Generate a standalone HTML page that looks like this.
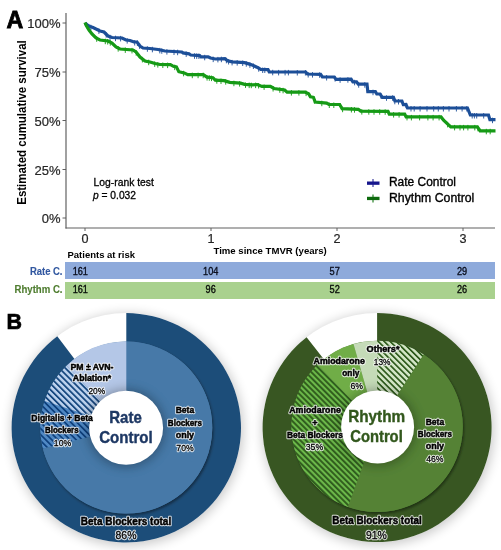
<!DOCTYPE html>
<html><head><meta charset="utf-8"><style>
html,body{margin:0;padding:0;background:#fff;}
svg{display:block;will-change:transform;}
text{font-family:"Liberation Sans",sans-serif;}
</style></head><body>
<svg width="501" height="550" viewBox="0 0 501 550">
<defs>
<pattern id="hB" patternUnits="userSpaceOnUse" width="4.3" height="4.3" patternTransform="rotate(-45)">
<rect width="4.3" height="4.3" fill="#bdd2ee"/><rect width="1.8" height="4.3" fill="#15467e"/></pattern>
<pattern id="hBm" patternUnits="userSpaceOnUse" width="4.3" height="4.3" patternTransform="rotate(-45)">
<rect width="4.3" height="4.3" fill="#4f88c4"/><rect width="1.7" height="4.3" fill="#0f3f7c"/></pattern>
<pattern id="hG" patternUnits="userSpaceOnUse" width="4.0" height="4.0" patternTransform="rotate(-45)">
<rect width="4" height="4" fill="#6cb84a"/><rect width="1.9" height="4" fill="#2e5a1c"/></pattern>
<pattern id="hGl" patternUnits="userSpaceOnUse" width="4.2" height="4.2" patternTransform="rotate(-45)">
<rect width="4.2" height="4.2" fill="#d3e6c6"/><rect width="1.7" height="4.2" fill="#2e5a1c"/></pattern>
<filter id="soft" x="0" y="0" width="501" height="550" filterUnits="userSpaceOnUse"><feGaussianBlur stdDeviation="0.6"/></filter>
<filter id="sh2" x="-20%" y="-20%" width="140%" height="140%"><feGaussianBlur stdDeviation="1.8"/></filter>
<filter id="sh" x="-20%" y="-20%" width="140%" height="140%"><feGaussianBlur stdDeviation="6"/></filter>
<filter id="glow" x="-30%" y="-30%" width="160%" height="160%">
<feMorphology in="SourceAlpha" operator="dilate" radius="1" result="d"/>
<feGaussianBlur in="d" stdDeviation="0.6" result="b"/>
<feFlood flood-color="#fff"/><feComposite in2="b" operator="in" result="w"/>
<feMerge><feMergeNode in="w"/><feMergeNode in="SourceGraphic"/></feMerge></filter>
</defs>
<g filter="url(#soft)">

<text x="6.5" y="28" font-size="23.2" font-weight="bold" fill="#000" stroke="#000" stroke-width="0.8">A</text>
<text x="60.5" y="28.3" font-size="13" fill="#262626" stroke="#262626" stroke-width="0.2" text-anchor="end">100%</text>
<line x1="62.5" y1="23" x2="66" y2="23" stroke="#606060" stroke-width="1"/>
<text x="60.5" y="77.3" font-size="13" fill="#262626" stroke="#262626" stroke-width="0.2" text-anchor="end">75%</text>
<line x1="62.5" y1="72" x2="66" y2="72" stroke="#606060" stroke-width="1"/>
<text x="60.5" y="125.8" font-size="13" fill="#262626" stroke="#262626" stroke-width="0.2" text-anchor="end">50%</text>
<line x1="62.5" y1="120.5" x2="66" y2="120.5" stroke="#606060" stroke-width="1"/>
<text x="60.5" y="174.8" font-size="13" fill="#262626" stroke="#262626" stroke-width="0.2" text-anchor="end">25%</text>
<line x1="62.5" y1="169.5" x2="66" y2="169.5" stroke="#606060" stroke-width="1"/>
<text x="60.5" y="223.3" font-size="13" fill="#262626" stroke="#262626" stroke-width="0.2" text-anchor="end">0%</text>
<line x1="62.5" y1="218" x2="66" y2="218" stroke="#606060" stroke-width="1"/>
<line x1="66" y1="13" x2="66" y2="228.5" stroke="#606060" stroke-width="1.2"/>
<line x1="65.5" y1="228" x2="495" y2="228" stroke="#606060" stroke-width="1.2"/>
<line x1="85" y1="228" x2="85" y2="231" stroke="#606060" stroke-width="1"/>
<text x="85" y="242.5" font-size="12.6" fill="#222" stroke="#222" stroke-width="0.2" text-anchor="middle">0</text>
<line x1="211" y1="228" x2="211" y2="231" stroke="#606060" stroke-width="1"/>
<text x="211" y="242.5" font-size="12.6" fill="#222" stroke="#222" stroke-width="0.2" text-anchor="middle">1</text>
<line x1="337" y1="228" x2="337" y2="231" stroke="#606060" stroke-width="1"/>
<text x="337" y="242.5" font-size="12.6" fill="#222" stroke="#222" stroke-width="0.2" text-anchor="middle">2</text>
<line x1="463" y1="228" x2="463" y2="231" stroke="#606060" stroke-width="1"/>
<text x="463" y="242.5" font-size="12.6" fill="#222" stroke="#222" stroke-width="0.2" text-anchor="middle">3</text>
<text transform="translate(25.6,122.5) rotate(-90)" font-size="12.4" font-weight="bold" fill="#000" text-anchor="middle" textLength="164.5" lengthAdjust="spacingAndGlyphs">Estimated cumulative survival</text>
<polyline points="85.0,23.0 88.0,25.5 90.0,26.5 93.0,27.5 100.0,31.0 104.0,32.0 108.0,36.0 112.0,37.5 122.0,38.0 126.0,40.0 130.0,40.5 134.0,42.0 137.0,42.0 140.0,46.0 143.0,48.0 150.0,48.5 158.0,49.5 165.0,51.0 181.8,52.0 183.0,52.9 189.0,53.8 190.7,55.0 199.7,55.6 200.9,56.8 208.1,56.8 210.5,58.0 215.3,59.0 224.9,58.6 227.4,60.7 232.3,61.9 240.5,62.3 244.6,62.7 248.7,63.9 252.8,65.2 256.9,67.2 260.8,69.4 268.0,69.6 269.2,71.8 305.7,72.0 307.4,74.0 320.6,74.3 322.4,77.0 334.3,77.0 336.1,79.4 351.1,79.1 352.9,81.8 356.5,81.8 358.3,84.2 367.0,84.2 367.8,91.7 375.4,91.7 376.8,94.0 380.1,94.0 382.3,97.3 393.5,97.3 394.9,101.0 401.9,101.0 403.3,104.6 406.1,104.6 407.5,108.0 467.5,108.0 470.3,115.0 488.5,115.0 489.9,119.7 495.5,119.7" fill="none" stroke="#1f4f98" stroke-width="3.2" stroke-linejoin="miter"/>
<path d="M90.9,24.8v5.5 M98.9,28.4v5.5 M106.2,32.2v5.5 M110.0,34.8v5.5 M115.5,35.7v5.5 M120.6,35.9v5.5 M127.2,38.1v5.5 M134.7,40.0v5.5 M137.4,40.5v5.5 M139.6,43.4v5.5 M147.4,46.3v5.5 M152.4,46.8v5.5 M159.8,47.9v5.5 M161.8,48.3v5.5 M166.9,49.1v5.5 M174.0,49.5v5.5 M177.6,49.7v5.5 M186.2,51.4v5.5 M194.5,53.3v5.5 M196.7,53.4v5.5 M198.9,53.5v5.5 M204.7,54.8v5.5 M213.2,56.6v5.5 M217.9,56.9v5.5 M221.4,56.7v5.5 M226.4,57.8v5.5 M228.6,59.0v5.5 M232.1,59.9v5.5 M237.2,60.1v5.5 M242.7,60.5v5.5 M246.3,61.2v5.5 M249.9,62.3v5.5 M253.4,63.5v5.5 M258.7,66.2v5.5 M262.7,67.5v5.5 M264.8,67.5v5.5 M272.7,69.8v5.5 M278.6,69.9v5.5 M285.1,69.9v5.5 M288.4,69.9v5.5 M297.3,70.0v5.5 M305.4,70.0v5.5 M308.2,72.0v5.5 M312.5,72.1v5.5 M319.6,72.3v5.5 M326.6,75.0v5.5 M335.1,76.1v5.5 M340.1,77.3v5.5 M347.9,77.2v5.5 M354.6,79.8v5.5 M358.7,82.2v5.5 M364.8,82.2v5.5 M373.0,89.7v5.5 M380.9,93.2v5.5 M386.5,95.3v5.5 M392.6,95.3v5.5 M394.8,98.8v5.5 M398.5,99.0v5.5 M406.1,102.6v5.5 M411.0,106.0v5.5 M414.2,106.0v5.5 M420.1,106.0v5.5 M427.0,106.0v5.5 M433.7,106.0v5.5 M438.3,106.0v5.5 M443.4,106.0v5.5 M449.0,106.0v5.5 M456.4,106.0v5.5 M462.1,106.0v5.5 M466.8,106.0v5.5 M472.2,113.0v5.5 M474.4,113.0v5.5 M476.7,113.0v5.5 M483.7,113.0v5.5 M492.5,117.7v5.5" stroke="#1f4f98" stroke-width="0.9" fill="none"/>
<polyline points="85.0,22.5 86.0,25.0 89.0,30.0 92.0,34.0 96.0,38.0 100.0,40.0 108.0,41.0 112.0,43.0 116.0,47.0 120.0,49.0 133.0,50.0 136.0,52.0 140.0,57.0 145.0,61.0 150.0,62.0 155.0,63.5 160.0,64.5 170.4,64.6 173.4,66.3 176.4,66.9 178.8,71.7 184.2,72.9 187.8,74.7 203.3,74.7 206.9,77.1 212.9,77.7 215.3,80.1 224.1,80.7 229.8,82.4 240.5,83.2 244.6,84.4 252.8,84.8 257.2,84.5 262.0,86.4 270.4,86.4 274.0,88.5 284.7,90.0 287.1,92.1 305.1,92.1 308.6,93.7 310.4,96.7 313.4,97.3 315.2,102.1 326.6,103.1 329.0,104.5 339.7,104.5 342.1,108.7 358.3,109.3 360.7,111.1 388.0,111.3 389.3,114.1 404.7,114.1 406.1,116.9 441.0,116.9 443.8,120.5 450.8,126.9 477.3,126.9 480.1,130.8 495.5,130.8" fill="none" stroke="#139a13" stroke-width="3.2" stroke-linejoin="miter"/>
<path d="M96.7,36.3v5.5 M105.3,38.7v5.5 M107.7,39.0v5.5 M110.3,40.2v5.5 M118.2,46.1v5.5 M125.3,47.4v5.5 M132.0,47.9v5.5 M136.2,50.2v5.5 M142.4,56.9v5.5 M148.7,59.7v5.5 M154.7,61.4v5.5 M157.8,62.1v5.5 M162.8,62.5v5.5 M167.6,62.6v5.5 M174.7,64.6v5.5 M183.6,70.8v5.5 M192.3,72.7v5.5 M198.1,72.7v5.5 M203.2,72.7v5.5 M207.1,75.1v5.5 M209.3,75.3v5.5 M211.5,75.6v5.5 M216.8,78.2v5.5 M221.0,78.5v5.5 M225.7,79.2v5.5 M233.9,80.7v5.5 M239.6,81.1v5.5 M245.5,82.4v5.5 M249.2,82.6v5.5 M251.3,82.7v5.5 M255.6,82.6v5.5 M258.6,83.0v5.5 M264.1,84.4v5.5 M273.1,86.0v5.5 M279.8,87.3v5.5 M283.1,87.8v5.5 M291.4,90.1v5.5 M298.9,90.1v5.5 M306.1,90.6v5.5 M314.4,98.1v5.5 M321.8,100.7v5.5 M329.3,102.5v5.5 M333.8,102.5v5.5 M342.6,106.7v5.5 M351.4,107.0v5.5 M354.5,107.2v5.5 M361.8,109.1v5.5 M368.8,109.2v5.5 M374.0,109.2v5.5 M379.7,109.2v5.5 M385.2,109.3v5.5 M393.6,112.1v5.5 M399.1,112.1v5.5 M407.0,114.9v5.5 M411.4,114.9v5.5 M419.6,114.9v5.5 M427.9,114.9v5.5 M433.1,114.9v5.5 M439.1,114.9v5.5 M447.6,121.9v5.5 M454.6,124.9v5.5 M460.0,124.9v5.5 M463.6,124.9v5.5 M467.9,124.9v5.5 M474.8,124.9v5.5 M477.9,125.8v5.5 M486.3,128.8v5.5 M490.2,128.8v5.5" stroke="#139a13" stroke-width="0.9" fill="none"/>
<rect x="367" y="181.5" width="12.5" height="3.3" fill="#15158c"/><rect x="372.5" y="179" width="1" height="8" fill="#15158c"/>
<rect x="367" y="196.8" width="12.5" height="3.3" fill="#0b6b0b"/><rect x="372.5" y="194.5" width="1" height="8" fill="#0b6b0b"/>
<text x="389" y="186" font-size="12" fill="#000" stroke="#000" stroke-width="0.35" textLength="67" lengthAdjust="spacingAndGlyphs">Rate Control</text>
<text x="389" y="201.5" font-size="12" fill="#000" stroke="#000" stroke-width="0.35" textLength="85.3" lengthAdjust="spacingAndGlyphs">Rhythm Control</text>
<text x="93.5" y="186" font-size="10.6" fill="#000" stroke="#000" stroke-width="0.3" textLength="60.4" lengthAdjust="spacingAndGlyphs">Log-rank test</text>
<text x="93" y="199" font-size="10.6" fill="#000" stroke="#000" stroke-width="0.3" textLength="43" lengthAdjust="spacingAndGlyphs"><tspan font-style="italic">p</tspan> = 0.032</text>
<text x="67.5" y="258.3" font-size="9.7" font-weight="bold" fill="#000" textLength="67.5" lengthAdjust="spacingAndGlyphs">Patients at risk</text>
<text x="213.5" y="254" font-size="9.8" font-weight="bold" fill="#000" textLength="113.3" lengthAdjust="spacingAndGlyphs">Time since TMVR (years)</text>
<rect x="65" y="262" width="430" height="17" fill="#8eaadb"/>
<rect x="65" y="282" width="430" height="17" fill="#a9d18e"/>
<text x="62.5" y="275" font-size="10.6" font-weight="bold" fill="#3258a0" stroke="#3258a0" stroke-width="0.15" text-anchor="end" textLength="32.6" lengthAdjust="spacingAndGlyphs">Rate C.</text>
<text x="62.5" y="293.2" font-size="10.6" font-weight="bold" fill="#4f7d30" stroke="#4f7d30" stroke-width="0.15" text-anchor="end" textLength="48" lengthAdjust="spacingAndGlyphs">Rhythm C.</text>
<text x="80.3" y="275" font-size="10.2" fill="#0a0f1e" stroke="#0a0f1e" stroke-width="0.35" text-anchor="middle" textLength="15.299999999999999" lengthAdjust="spacingAndGlyphs">161</text>
<text x="80.3" y="293.4" font-size="10.2" fill="#0a0f0a" stroke="#0a0f0a" stroke-width="0.35" text-anchor="middle" textLength="15.299999999999999" lengthAdjust="spacingAndGlyphs">161</text>
<text x="210.7" y="275" font-size="10.2" fill="#0a0f1e" stroke="#0a0f1e" stroke-width="0.35" text-anchor="middle" textLength="15.299999999999999" lengthAdjust="spacingAndGlyphs">104</text>
<text x="210.7" y="293.4" font-size="10.2" fill="#0a0f0a" stroke="#0a0f0a" stroke-width="0.35" text-anchor="middle" textLength="10.2" lengthAdjust="spacingAndGlyphs">96</text>
<text x="334.7" y="275" font-size="10.2" fill="#0a0f1e" stroke="#0a0f1e" stroke-width="0.35" text-anchor="middle" textLength="10.2" lengthAdjust="spacingAndGlyphs">57</text>
<text x="334.7" y="293.4" font-size="10.2" fill="#0a0f0a" stroke="#0a0f0a" stroke-width="0.35" text-anchor="middle" textLength="10.2" lengthAdjust="spacingAndGlyphs">52</text>
<text x="462" y="275" font-size="10.2" fill="#0a0f1e" stroke="#0a0f1e" stroke-width="0.35" text-anchor="middle" textLength="10.2" lengthAdjust="spacingAndGlyphs">29</text>
<text x="462" y="293.4" font-size="10.2" fill="#0a0f0a" stroke="#0a0f0a" stroke-width="0.35" text-anchor="middle" textLength="10.2" lengthAdjust="spacingAndGlyphs">26</text>
<text x="6.6" y="329.4" font-size="21.5" font-weight="bold" fill="#000" stroke="#000" stroke-width="0.6">B</text>
<circle cx="127.3" cy="429.8" r="115.7" fill="#000" opacity="0.22" filter="url(#sh)"/>
<circle cx="126.3" cy="427.8" r="114.7" fill="#fff"/>
<path d="M126.30,313.10 A114.7,114.7 0 1 1 57.27,336.20 L76.95,362.31 A82,82 0 1 0 126.30,345.80 Z" fill="#1f4e79"/>
<circle cx="127.5" cy="429.40000000000003" r="86" fill="#000" opacity="0.45" filter="url(#sh2)"/>
<circle cx="126.3" cy="427.6" r="86" fill="#4679a8"/>
<path d="M126.30,427.60 L126.30,341.60 A86,86 0 1 1 42.85,448.41 Z" fill="#4679a8"/>
<path d="M126.30,427.60 L42.85,448.41 A86,86 0 0 1 44.51,401.02 Z" fill="url(#hBm)"/>
<path d="M126.30,427.60 L44.51,401.02 A86,86 0 0 1 66.56,365.74 Z" fill="url(#hB)"/>
<path d="M126.30,427.60 L66.56,365.74 A86,86 0 0 1 126.30,341.60 Z" fill="#b4c7e7"/>
<circle cx="126.1" cy="428.2" r="38" fill="#000" opacity="0.35" filter="url(#sh)"/>
<circle cx="126.1" cy="427.7" r="37" fill="#fff"/>
<text x="125.5" y="422.7" font-size="16.3" font-weight="bold" fill="#1f3864" stroke="#1f3864" stroke-width="0.4" text-anchor="middle" textLength="32.5" lengthAdjust="spacingAndGlyphs">Rate</text>
<text x="126" y="442.8" font-size="16.3" font-weight="bold" fill="#1f3864" stroke="#1f3864" stroke-width="0.4" text-anchor="middle" textLength="53.5" lengthAdjust="spacingAndGlyphs">Control</text>
<text x="92" y="370" font-size="9" font-weight="bold" fill="#fff" text-anchor="middle" stroke="#fff" stroke-width="2.4" stroke-opacity="0.8" stroke-linejoin="round" textLength="43" lengthAdjust="spacingAndGlyphs">PM ± AVN-</text>
<text x="92" y="370" font-size="9" font-weight="bold" fill="#000" text-anchor="middle" stroke="#000" stroke-width="0.5" textLength="43" lengthAdjust="spacingAndGlyphs">PM ± AVN-</text>
<text x="92" y="381.4" font-size="9" font-weight="bold" fill="#fff" text-anchor="middle" stroke="#fff" stroke-width="2.4" stroke-opacity="0.8" stroke-linejoin="round" textLength="38.3" lengthAdjust="spacingAndGlyphs">Ablation*</text>
<text x="92" y="381.4" font-size="9" font-weight="bold" fill="#000" text-anchor="middle" stroke="#000" stroke-width="0.5" textLength="38.3" lengthAdjust="spacingAndGlyphs">Ablation*</text>
<text x="96.8" y="394" font-size="9.7" font-weight="normal" fill="#fff" text-anchor="middle" stroke="#fff" stroke-width="2.4" stroke-opacity="0.8" stroke-linejoin="round" textLength="16.7" lengthAdjust="spacingAndGlyphs">20%</text>
<text x="96.8" y="394" font-size="9.7" font-weight="normal" fill="#000" text-anchor="middle" stroke="#000" stroke-width="0.3" textLength="16.7" lengthAdjust="spacingAndGlyphs">20%</text>
<text x="62.1" y="421" font-size="9" font-weight="bold" fill="#fff" text-anchor="middle" stroke="#fff" stroke-width="2.4" stroke-opacity="0.8" stroke-linejoin="round" textLength="61.5" lengthAdjust="spacingAndGlyphs">Digitalis + Beta</text>
<text x="62.1" y="421" font-size="9" font-weight="bold" fill="#000" text-anchor="middle" stroke="#000" stroke-width="0.5" textLength="61.5" lengthAdjust="spacingAndGlyphs">Digitalis + Beta</text>
<text x="61.8" y="433" font-size="9" font-weight="bold" fill="#fff" text-anchor="middle" stroke="#fff" stroke-width="2.4" stroke-opacity="0.8" stroke-linejoin="round" textLength="33.5" lengthAdjust="spacingAndGlyphs">Blockers</text>
<text x="61.8" y="433" font-size="9" font-weight="bold" fill="#000" text-anchor="middle" stroke="#000" stroke-width="0.5" textLength="33.5" lengthAdjust="spacingAndGlyphs">Blockers</text>
<text x="62.5" y="446.2" font-size="9.7" font-weight="normal" fill="#fff" text-anchor="middle" stroke="#fff" stroke-width="2.4" stroke-opacity="0.8" stroke-linejoin="round" textLength="17.3" lengthAdjust="spacingAndGlyphs">10%</text>
<text x="62.5" y="446.2" font-size="9.7" font-weight="normal" fill="#000" text-anchor="middle" stroke="#000" stroke-width="0.3" textLength="17.3" lengthAdjust="spacingAndGlyphs">10%</text>
<text x="184.9" y="413.2" font-size="9" font-weight="bold" fill="#fff" text-anchor="middle" stroke="#fff" stroke-width="2.4" stroke-opacity="0.8" stroke-linejoin="round" textLength="18.5" lengthAdjust="spacingAndGlyphs">Beta</text>
<text x="184.9" y="413.2" font-size="9" font-weight="bold" fill="#000" text-anchor="middle" stroke="#000" stroke-width="0.5" textLength="18.5" lengthAdjust="spacingAndGlyphs">Beta</text>
<text x="184.9" y="425.7" font-size="9" font-weight="bold" fill="#fff" text-anchor="middle" stroke="#fff" stroke-width="2.4" stroke-opacity="0.8" stroke-linejoin="round" textLength="34.1" lengthAdjust="spacingAndGlyphs">Blockers</text>
<text x="184.9" y="425.7" font-size="9" font-weight="bold" fill="#000" text-anchor="middle" stroke="#000" stroke-width="0.5" textLength="34.1" lengthAdjust="spacingAndGlyphs">Blockers</text>
<text x="184.9" y="437.7" font-size="9" font-weight="bold" fill="#fff" text-anchor="middle" stroke="#fff" stroke-width="2.4" stroke-opacity="0.8" stroke-linejoin="round" textLength="18.5" lengthAdjust="spacingAndGlyphs">only</text>
<text x="184.9" y="437.7" font-size="9" font-weight="bold" fill="#000" text-anchor="middle" stroke="#000" stroke-width="0.5" textLength="18.5" lengthAdjust="spacingAndGlyphs">only</text>
<text x="185" y="450.5" font-size="9.7" font-weight="normal" fill="#fff" text-anchor="middle" stroke="#fff" stroke-width="2.4" stroke-opacity="0.8" stroke-linejoin="round" textLength="17.3" lengthAdjust="spacingAndGlyphs">70%</text>
<text x="185" y="450.5" font-size="9.7" font-weight="normal" fill="#000" text-anchor="middle" stroke="#000" stroke-width="0.3" textLength="17.3" lengthAdjust="spacingAndGlyphs">70%</text>
<text x="126" y="524.8" font-size="10.5" font-weight="bold" fill="#fff" text-anchor="middle" stroke="#fff" stroke-width="2.4" stroke-opacity="0.8" stroke-linejoin="round" textLength="90.4" lengthAdjust="spacingAndGlyphs">Beta Blockers total</text>
<text x="126" y="524.8" font-size="10.5" font-weight="bold" fill="#000" text-anchor="middle" stroke="#000" stroke-width="0.5" textLength="90.4" lengthAdjust="spacingAndGlyphs">Beta Blockers total</text>
<text x="126" y="539.2" font-size="10.5" font-weight="normal" fill="#fff" text-anchor="middle" stroke="#fff" stroke-width="2.4" stroke-opacity="0.8" stroke-linejoin="round" textLength="20.9" lengthAdjust="spacingAndGlyphs">86%</text>
<text x="126" y="539.2" font-size="10.5" font-weight="normal" fill="#000" text-anchor="middle" stroke="#000" stroke-width="0.3" textLength="20.9" lengthAdjust="spacingAndGlyphs">86%</text>
<circle cx="378.1" cy="429.5" r="115.5" fill="#000" opacity="0.22" filter="url(#sh)"/>
<circle cx="377.1" cy="427.5" r="114.5" fill="#fff"/>
<path d="M377.10,313.00 A114.5,114.5 0 1 1 306.61,337.27 L326.80,363.12 A81.7,81.7 0 1 0 377.10,345.80 Z" fill="#385723"/>
<circle cx="378.3" cy="428.2" r="85.7" fill="#000" opacity="0.45" filter="url(#sh2)"/>
<circle cx="377.1" cy="426.4" r="85.7" fill="#548235"/>
<path d="M377.10,426.40 L377.10,340.70 A85.7,85.7 0 0 1 423.78,354.53 Z" fill="url(#hGl)"/>
<path d="M377.10,426.40 L423.78,354.53 A85.7,85.7 0 0 1 347.79,506.93 Z" fill="#548235"/>
<path d="M377.10,426.40 L347.79,506.93 A85.7,85.7 0 0 1 317.57,364.75 Z" fill="url(#hG)"/>
<path d="M377.10,426.40 L317.57,364.75 A85.7,85.7 0 0 1 353.48,344.02 Z" fill="#70ad47"/>
<path d="M377.10,426.40 L353.48,344.02 A85.7,85.7 0 0 1 377.10,340.70 Z" fill="#c5dbb8"/>
<circle cx="377.6" cy="427.5" r="37.5" fill="#000" opacity="0.35" filter="url(#sh)"/>
<circle cx="377.6" cy="427" r="36.5" fill="#fff"/>
<text x="376.7" y="422.2" font-size="16.3" font-weight="bold" fill="#33581e" stroke="#33581e" stroke-width="0.4" text-anchor="middle" textLength="57" lengthAdjust="spacingAndGlyphs">Rhythm</text>
<text x="376.5" y="441.5" font-size="16.3" font-weight="bold" fill="#33581e" stroke="#33581e" stroke-width="0.4" text-anchor="middle" textLength="52.5" lengthAdjust="spacingAndGlyphs">Control</text>
<text x="339.2" y="364.4" font-size="9" font-weight="bold" fill="#fff" text-anchor="middle" stroke="#fff" stroke-width="2.4" stroke-opacity="0.8" stroke-linejoin="round" textLength="51.2" lengthAdjust="spacingAndGlyphs">Amiodarone</text>
<text x="339.2" y="364.4" font-size="9" font-weight="bold" fill="#000" text-anchor="middle" stroke="#000" stroke-width="0.5" textLength="51.2" lengthAdjust="spacingAndGlyphs">Amiodarone</text>
<text x="350.8" y="376" font-size="9" font-weight="bold" fill="#fff" text-anchor="middle" stroke="#fff" stroke-width="2.4" stroke-opacity="0.8" stroke-linejoin="round" textLength="17.1" lengthAdjust="spacingAndGlyphs">only</text>
<text x="350.8" y="376" font-size="9" font-weight="bold" fill="#000" text-anchor="middle" stroke="#000" stroke-width="0.5" textLength="17.1" lengthAdjust="spacingAndGlyphs">only</text>
<text x="356.7" y="388.6" font-size="9.7" font-weight="normal" fill="#fff" text-anchor="middle" stroke="#fff" stroke-width="2.4" stroke-opacity="0.8" stroke-linejoin="round" textLength="12.6" lengthAdjust="spacingAndGlyphs">6%</text>
<text x="356.7" y="388.6" font-size="9.7" font-weight="normal" fill="#000" text-anchor="middle" stroke="#000" stroke-width="0.3" textLength="12.6" lengthAdjust="spacingAndGlyphs">6%</text>
<text x="383" y="352.4" font-size="9" font-weight="bold" fill="#fff" text-anchor="middle" stroke="#fff" stroke-width="2.4" stroke-opacity="0.8" stroke-linejoin="round" textLength="32.9" lengthAdjust="spacingAndGlyphs">Others*</text>
<text x="383" y="352.4" font-size="9" font-weight="bold" fill="#000" text-anchor="middle" stroke="#000" stroke-width="0.5" textLength="32.9" lengthAdjust="spacingAndGlyphs">Others*</text>
<text x="382.1" y="365" font-size="9.7" font-weight="normal" fill="#fff" text-anchor="middle" stroke="#fff" stroke-width="2.4" stroke-opacity="0.8" stroke-linejoin="round" textLength="16.7" lengthAdjust="spacingAndGlyphs">13%</text>
<text x="382.1" y="365" font-size="9.7" font-weight="normal" fill="#000" text-anchor="middle" stroke="#000" stroke-width="0.3" textLength="16.7" lengthAdjust="spacingAndGlyphs">13%</text>
<text x="315" y="413.3" font-size="9" font-weight="bold" fill="#fff" text-anchor="middle" stroke="#fff" stroke-width="2.4" stroke-opacity="0.8" stroke-linejoin="round" textLength="51.7" lengthAdjust="spacingAndGlyphs">Amiodarone</text>
<text x="315" y="413.3" font-size="9" font-weight="bold" fill="#000" text-anchor="middle" stroke="#000" stroke-width="0.5" textLength="51.7" lengthAdjust="spacingAndGlyphs">Amiodarone</text>
<text x="314.9" y="426" font-size="9" font-weight="bold" fill="#fff" text-anchor="middle" stroke="#fff" stroke-width="2.4" stroke-opacity="0.8" stroke-linejoin="round">+</text>
<text x="314.9" y="426" font-size="9" font-weight="bold" fill="#000" text-anchor="middle" stroke="#000" stroke-width="0.5">+</text>
<text x="314.9" y="438" font-size="9" font-weight="bold" fill="#fff" text-anchor="middle" stroke="#fff" stroke-width="2.4" stroke-opacity="0.8" stroke-linejoin="round" textLength="55.8" lengthAdjust="spacingAndGlyphs">Beta Blockers</text>
<text x="314.9" y="438" font-size="9" font-weight="bold" fill="#000" text-anchor="middle" stroke="#000" stroke-width="0.5" textLength="55.8" lengthAdjust="spacingAndGlyphs">Beta Blockers</text>
<text x="314.5" y="450.3" font-size="9.7" font-weight="normal" fill="#fff" text-anchor="middle" stroke="#fff" stroke-width="2.4" stroke-opacity="0.8" stroke-linejoin="round" textLength="17.5" lengthAdjust="spacingAndGlyphs">35%</text>
<text x="314.5" y="450.3" font-size="9.7" font-weight="normal" fill="#000" text-anchor="middle" stroke="#000" stroke-width="0.3" textLength="17.5" lengthAdjust="spacingAndGlyphs">35%</text>
<text x="434.9" y="425.4" font-size="9" font-weight="bold" fill="#fff" text-anchor="middle" stroke="#fff" stroke-width="2.4" stroke-opacity="0.8" stroke-linejoin="round" textLength="18.5" lengthAdjust="spacingAndGlyphs">Beta</text>
<text x="434.9" y="425.4" font-size="9" font-weight="bold" fill="#000" text-anchor="middle" stroke="#000" stroke-width="0.5" textLength="18.5" lengthAdjust="spacingAndGlyphs">Beta</text>
<text x="434.9" y="437.3" font-size="9" font-weight="bold" fill="#fff" text-anchor="middle" stroke="#fff" stroke-width="2.4" stroke-opacity="0.8" stroke-linejoin="round" textLength="34.1" lengthAdjust="spacingAndGlyphs">Blockers</text>
<text x="434.9" y="437.3" font-size="9" font-weight="bold" fill="#000" text-anchor="middle" stroke="#000" stroke-width="0.5" textLength="34.1" lengthAdjust="spacingAndGlyphs">Blockers</text>
<text x="434.9" y="449.3" font-size="9" font-weight="bold" fill="#fff" text-anchor="middle" stroke="#fff" stroke-width="2.4" stroke-opacity="0.8" stroke-linejoin="round" textLength="18.5" lengthAdjust="spacingAndGlyphs">only</text>
<text x="434.9" y="449.3" font-size="9" font-weight="bold" fill="#000" text-anchor="middle" stroke="#000" stroke-width="0.5" textLength="18.5" lengthAdjust="spacingAndGlyphs">only</text>
<text x="434.9" y="461.9" font-size="9.7" font-weight="normal" fill="#fff" text-anchor="middle" stroke="#fff" stroke-width="2.4" stroke-opacity="0.8" stroke-linejoin="round" textLength="17.3" lengthAdjust="spacingAndGlyphs">46%</text>
<text x="434.9" y="461.9" font-size="9.7" font-weight="normal" fill="#000" text-anchor="middle" stroke="#000" stroke-width="0.3" textLength="17.3" lengthAdjust="spacingAndGlyphs">46%</text>
<text x="377" y="524.2" font-size="10.5" font-weight="bold" fill="#fff" text-anchor="middle" stroke="#fff" stroke-width="2.4" stroke-opacity="0.8" stroke-linejoin="round" textLength="89.4" lengthAdjust="spacingAndGlyphs">Beta Blockers total</text>
<text x="377" y="524.2" font-size="10.5" font-weight="bold" fill="#000" text-anchor="middle" stroke="#000" stroke-width="0.5" textLength="89.4" lengthAdjust="spacingAndGlyphs">Beta Blockers total</text>
<text x="376.4" y="539" font-size="10.5" font-weight="normal" fill="#fff" text-anchor="middle" stroke="#fff" stroke-width="2.4" stroke-opacity="0.8" stroke-linejoin="round" textLength="20.9" lengthAdjust="spacingAndGlyphs">91%</text>
<text x="376.4" y="539" font-size="10.5" font-weight="normal" fill="#000" text-anchor="middle" stroke="#000" stroke-width="0.3" textLength="20.9" lengthAdjust="spacingAndGlyphs">91%</text>
</g></svg></body></html>
